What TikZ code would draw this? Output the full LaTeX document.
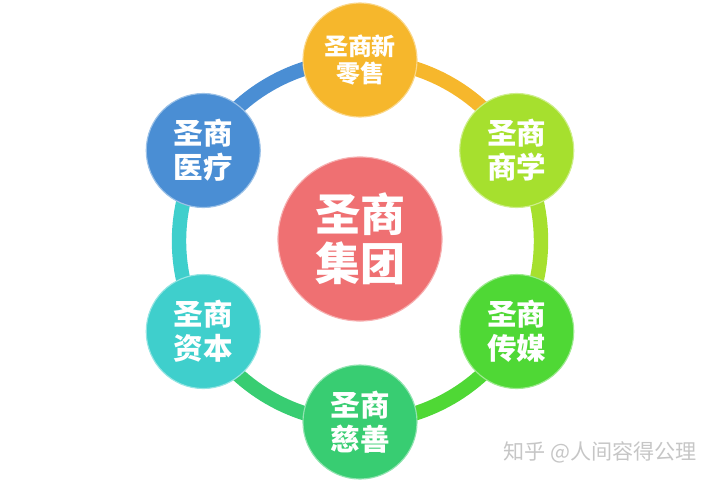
\documentclass[tikz,border=0pt]{standalone}
\usepackage{fontspec}
\newfontfamily\cjk{Noto Sans CJK SC}
\usetikzlibrary{backgrounds}

\definecolor{groupcol}{HTML}{EF7072}
\definecolor{retailcol}{HTML}{F6B72C}
\definecolor{schoolcol}{HTML}{A6E02E}
\definecolor{mediacol}{HTML}{4FD835}
\definecolor{charitycol}{HTML}{38CD72}
\definecolor{capitalcol}{HTML}{3FCFCC}
\definecolor{medicalcol}{HTML}{4A8ED4}

\tikzset{
  branch/.style={circle, fill=#1, draw=#1!55!white, line width=0.8pt,
    minimum size=2.85cm, inner sep=0pt, text=white, align=center,
    font=\cjk\bfseries\fontsize{21}{24}\selectfont},
  ring/.style={draw=#1, line width=0.36cm},
}

\begin{document}
\begin{tikzpicture}[x=0.025cm, y=0.025cm]
\useasboundingbox (-360,-240) rectangle (360,241);

% group in the middle
\node[branch=groupcol, minimum size=4.1cm,
  font=\cjk\bfseries\fontsize{32}{35}\selectfont] (group) at (0,2) {圣商\\集团};

% six branches on the ring
\node[branch=retailcol, font=\cjk\bfseries\fontsize{17}{19}\selectfont]
  (retail) at (90:181) {圣商新\\零售};
\node[branch=schoolcol] (school) at (30:181) {圣商\\商学};
\node[branch=mediacol] (media) at (-30:181) {圣商\\传媒};
\node[branch=charitycol] (charity) at (-90:181) {圣商\\慈善};
\node[branch=capitalcol] (capital) at (-150:181) {圣商\\资本};
\node[branch=medicalcol] (medical) at (150:181) {圣商\\医疗};

% ring behind the branches
\begin{scope}[on background layer]
\draw[ring=retailcol] (retail.center) arc[start angle=90, end angle=30, radius=181];
\draw[ring=schoolcol] (school.center) arc[start angle=30, end angle=-30, radius=181];
\draw[ring=mediacol] (media.center) arc[start angle=-30, end angle=-90, radius=181];
\draw[ring=charitycol] (charity.center) arc[start angle=-90, end angle=-150, radius=181];
\draw[ring=capitalcol] (capital.center) arc[start angle=-150, end angle=-210, radius=181];
\draw[ring=medicalcol] (medical.center) arc[start angle=150, end angle=90, radius=181];
\end{scope}

% watermark
\node[anchor=east, text=gray!45, font=\cjk\fontsize{15}{15}\selectfont]
  (mark) at (342,-211) {知乎 @人间容得公理};
\end{tikzpicture}
\end{document}
